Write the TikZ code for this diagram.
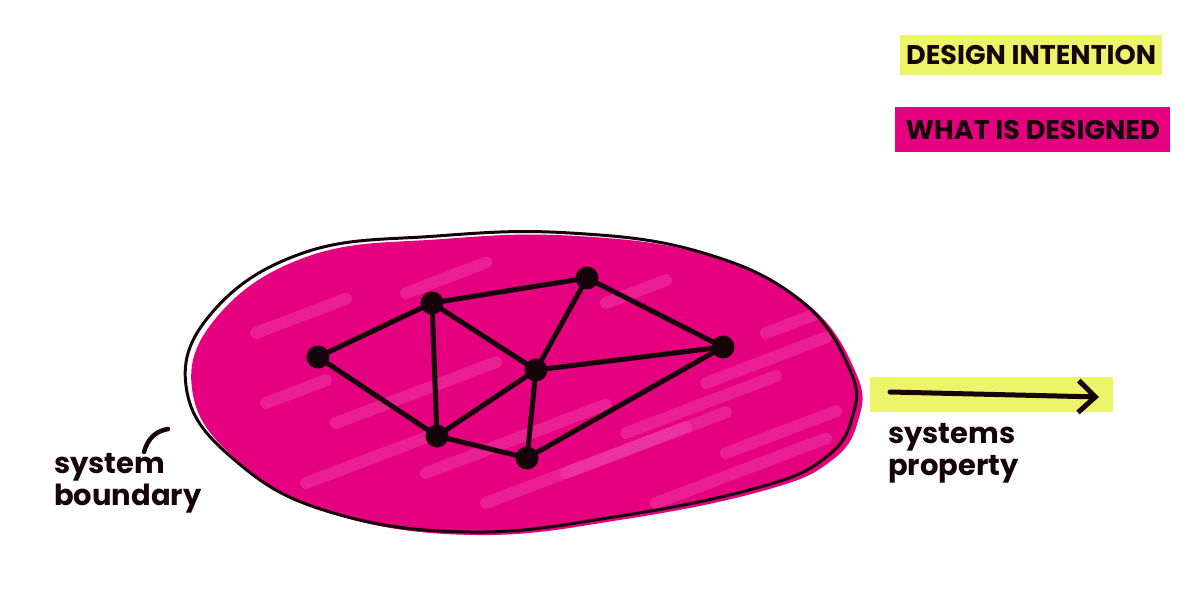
\documentclass[tikz,border=0pt]{standalone}
\usepackage{fontspec}
\setmainfont{Poppins}
\usetikzlibrary{arrows.meta}
\definecolor{mag}{RGB}{229,0,128}
\definecolor{magl}{RGB}{242,90,180}
\definecolor{yel}{RGB}{236,245,105}
\definecolor{ink}{RGB}{22,4,10}
\begin{document}
\begin{tikzpicture}[x=1pt,y=-1pt,
  dot/.style={circle, fill=ink, minimum size=23pt, inner sep=0pt},
  edge/.style={line width=5pt, draw=ink, line cap=round},
  legendbox/.style={inner xsep=6pt, inner ysep=8pt, font=\fontsize{27}{29}\selectfont\bfseries, text=ink, anchor=west},
  label/.style={font=\fontsize{29}{32}\selectfont\bfseries, text=ink, align=left, anchor=north west, inner sep=0pt},
  streak/.style={line width=12pt, draw=magl, opacity=0.35, line cap=round}]
\useasboundingbox (0,0) rectangle (1200,599);
\fill[white] (0,0) rectangle (1200,599);
% fill of the system (slightly offset from outline, like marker)
\begin{scope}[shift={(6,3)}]
\fill[mag] plot[smooth cycle, tension=0.7] coordinates {(187,392) (210,315) (303,253) (437,236) (570,233) (700,252) (800,300) (850,370) (852,418) (825,458) (760,487) (620,516) (470,532) (330,512) (237,462)};
\clip plot[smooth cycle, tension=0.7] coordinates {(187,392) (210,315) (303,253) (437,236) (570,233) (700,252) (800,300) (850,370) (852,418) (825,458) (760,487) (620,516) (470,532) (330,512) (237,462)};
\foreach \x/\y/\l in {250/330/90, 330/420/160, 300/480/130, 420/470/180, 480/500/200, 560/470/160, 620/430/150, 650/500/170, 700/380/120, 720/450/110, 600/300/60, 400/290/80, 760/330/60, 260/400/60}
  \draw[streak] (\x,\y) -- ++(\l,-0.38*\l);
\end{scope}
% system boundary outline
\draw[line width=3pt, draw=ink] plot[smooth cycle, tension=0.7] coordinates {(187,392) (210,315) (303,253) (437,236) (570,233) (700,252) (800,300) (850,370) (852,418) (825,458) (760,487) (620,516) (470,532) (330,512) (237,462)};
% network
\node[dot] (a) at (318,357) {};
\node[dot] (b) at (432,303) {};
\node[dot] (c) at (587,278) {};
\node[dot] (d) at (536,370) {};
\node[dot] (e) at (723,347) {};
\node[dot] (f) at (437,436) {};
\node[dot] (g) at (527,458) {};
\draw[edge] (a) -- (b);
\draw[edge] (a) -- (f);
\draw[edge] (b) -- (c);
\draw[edge] (b) -- (f);
\draw[edge] (b) -- (d);
\draw[edge] (c) -- (d);
\draw[edge] (c) -- (e);
\draw[edge] (d) -- (e);
\draw[edge] (d) -- (f);
\draw[edge] (d) -- (g);
\draw[edge] (f) -- (g);
\draw[edge] (g) -- (e);
% legend
\node[legendbox, fill=yel, minimum width=260pt, minimum height=40pt] (intent) at (900,55) {DESIGN INTENTION};
\node[legendbox, fill=mag, minimum width=275pt, minimum height=45pt] (designed) at (895,130) {WHAT IS DESIGNED};
% systems property arrow
\fill[yel] (870,377) rectangle (1113,412);
\coordinate (ps) at (890,392);
\coordinate (pe) at (1099,397);
\draw[line width=5pt, draw=ink, line cap=round, -{Straight Barb[length=17pt, width=32pt, line width=5pt]}] (ps) -- (pe);
\node[label] (prop) at (888,423) {systems\\property};
% system boundary label
\node[label] (bound) at (54,453) {system\\boundary};
\coordinate (t1) at (144,452);
\coordinate (t2) at (168,429);
\draw[line width=4.5pt, draw=ink, line cap=round] (t1) .. controls (148,438) and (156,431) .. (t2);
\end{tikzpicture}
\end{document}
